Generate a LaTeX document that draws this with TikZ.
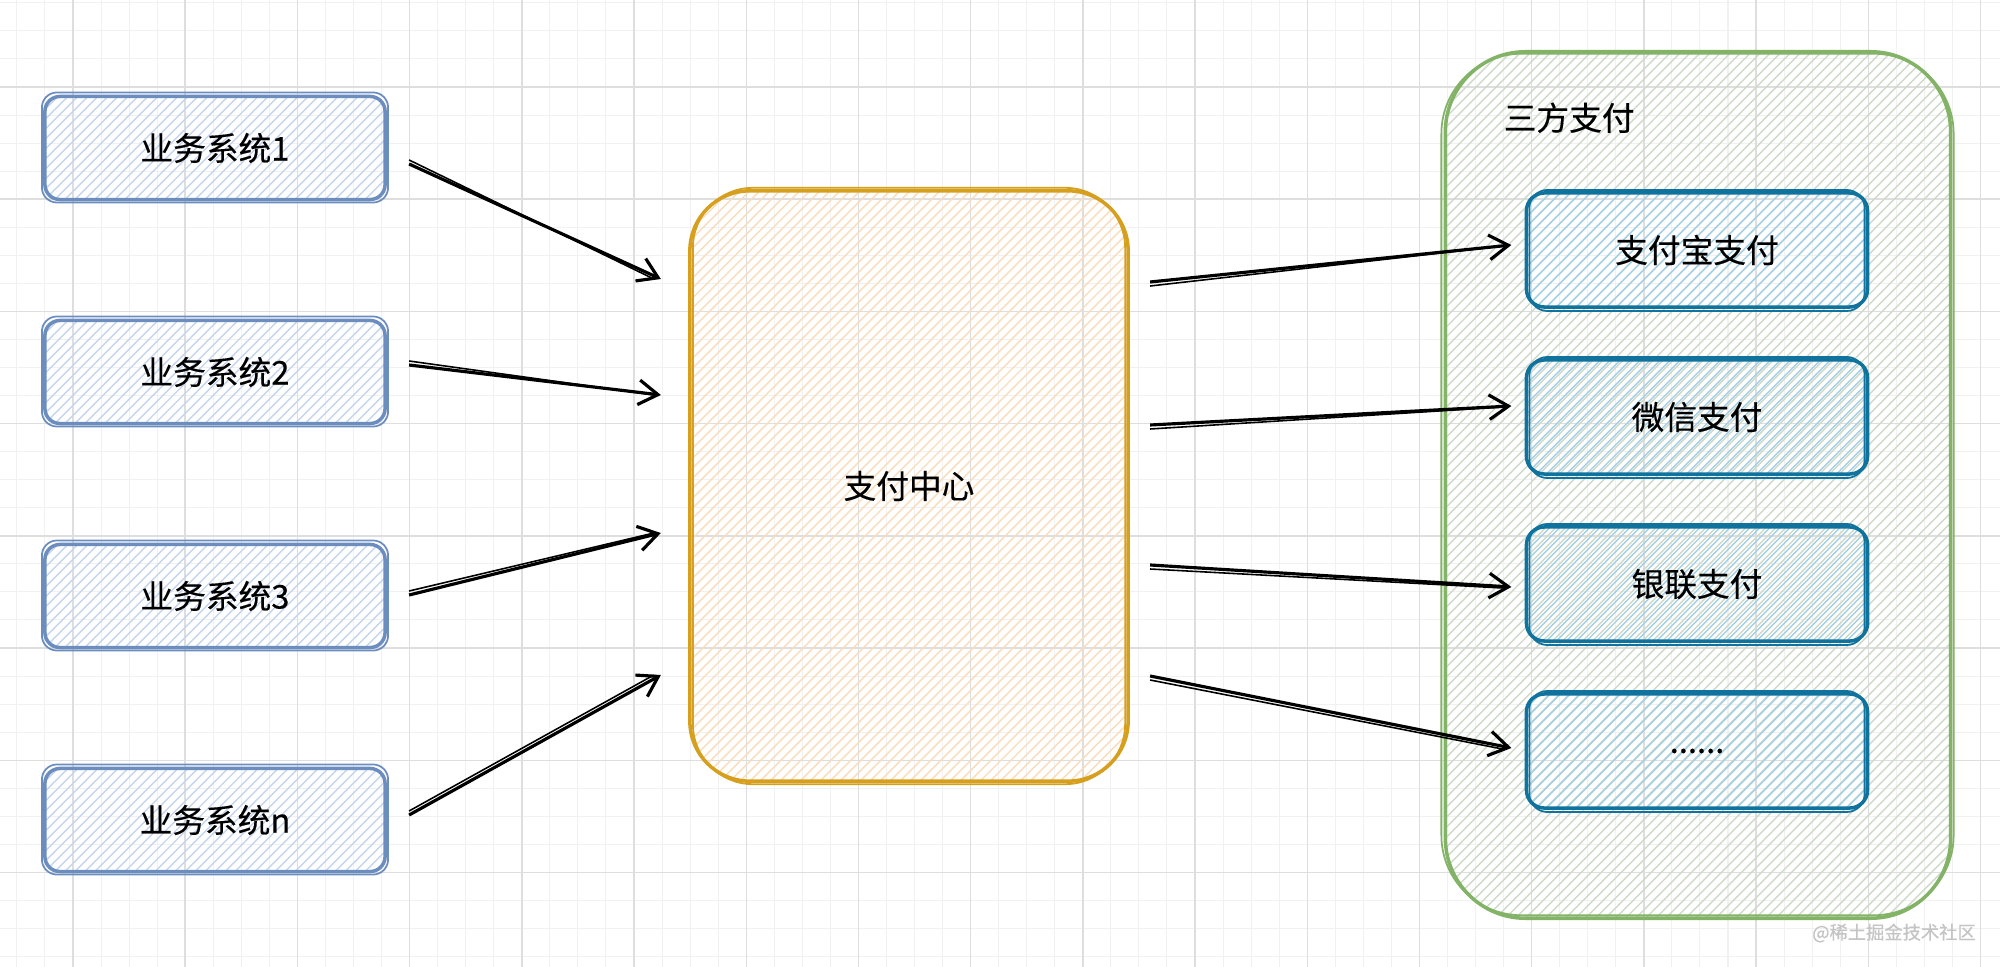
\documentclass[tikz,border=0pt]{standalone}
\usepackage{fontspec}
\setmainfont{Noto Sans CJK SC}[FakeBold=0.35]
\usetikzlibrary{arrows.meta}
\definecolor{sysline}{HTML}{6C8EBF}
\definecolor{sysfill}{HTML}{C6D6EE}
\definecolor{hubline}{HTML}{D6A01E}
\definecolor{hubfill}{HTML}{FADCBC}
\definecolor{thirdline}{HTML}{82B366}
\definecolor{thirdfill}{HTML}{CFD9CA}
\definecolor{payline}{HTML}{10739E}
\definecolor{payfill}{HTML}{A3D0E8}
\definecolor{gridminor}{HTML}{F1F1F1}
\definecolor{gridmajor}{HTML}{DEDEDE}
\definecolor{wmgray}{HTML}{C4C4C4}
\newcommand{\dotsix}{......}

\begin{document}
\begin{tikzpicture}[x=0.01cm,y=-0.01cm,
    font=\fontsize{9.3pt}{11pt}\selectfont,
    hatch/.style={path picture={
        \foreach \k in {-90,...,60}
            \draw[#1,line width=0.4pt] ([xshift=\k*0.1cm]path picture bounding box.south west) -- ++(1000,-1000);
    }},
    sysbox/.style={draw=sysline,line width=1pt,rounded corners=0.15cm,inner sep=0pt,outer sep=0pt,
        minimum width=3.4cm,minimum height=1.03cm,hatch=sysfill},
    paybox/.style={draw=payline,line width=1pt,rounded corners=0.18cm,inner sep=0pt,outer sep=0pt,
        minimum width=3.41cm,minimum height=1.14cm,hatch=payfill},
    hubbox/.style={draw=hubline,line width=1pt,rounded corners=0.6cm,inner sep=0pt,outer sep=0pt,
        minimum width=4.38cm,minimum height=5.9cm,hatch=hubfill},
    thirdbox/.style={draw=thirdline,line width=1pt,rounded corners=0.8cm,inner sep=0pt,outer sep=0pt,
        minimum width=5.05cm,minimum height=8.66cm,hatch=thirdfill},
    link/.style={-{Straight Barb[length=5.5pt,width=7pt]},line width=0.9pt},
    link2/.style={line width=0.45pt}
]
\useasboundingbox (0,0) rectangle (2000,967);
\fill[white] (0,0) rectangle (2000,967);
% grid
\foreach \k in {0,...,70}
    \draw[gridminor,line width=0.3pt] ({16.9+28.05*\k},0) -- ++(0,967);
\foreach \k in {0,...,34}
    \draw[gridminor,line width=0.3pt] (0,{2.85+28.05*\k}) -- ++(2000,0);
\foreach \k in {0,...,17}
    \draw[gridmajor,line width=0.4pt] ({73+112.2*\k},0) -- ++(0,967);
\foreach \k in {0,...,7}
    \draw[gridmajor,line width=0.4pt] (0,{87+112.2*\k}) -- ++(2000,0);

% third party
\node[thirdbox] (third) at (1698,485) {};
\draw[thirdline,line width=0.5pt,rounded corners=0.8cm] ([shift={(-4,2)}]third.north west) rectangle ([shift={(3,-3)}]third.south east);
\node[anchor=west] (thirdlabel) at ([shift={(46,66)}]third.north west) {三方支付};

% center
\node[hubbox] (hub) at (909,486) {支付中心};
\draw[hubline,line width=0.5pt,rounded corners=0.6cm] ([shift={(3,-3)}]hub.north west) rectangle ([shift={(-3,3)}]hub.south east);

% business systems
\foreach \i/\t in {1/1,2/2,3/3,4/n}{
    \node[sysbox] (s\i) at (215,{148+224*(\i-1)}) {业务系统\t};
    \draw[sysline,line width=0.5pt,rounded corners=0.15cm] ([shift={(-3,-4)}]s\i.north west) rectangle ([shift={(3,3)}]s\i.south east);
}

% payment channels
\foreach \i/\t in {1/支付宝支付,2/微信支付,3/银联支付,4/\dotsix}{
    \node[paybox] (p\i) at (1697,{250+167*(\i-1)}) {\t};
    \draw[payline,line width=0.5pt,rounded corners=0.18cm] ([shift={(3,-3)}]p\i.north west) rectangle ([shift={(-3,4)}]p\i.south east);
}

% arrows
\foreach \i/\sy/\ey in {1/16/-207,2/-7/-91,3/-1/47,4/-5/189}{
    \draw[link] ([shift={(24,\sy)}]s\i.east) -- ([shift={(-29,\ey)}]hub.west);
    \draw[link2] ([shift={(24,\sy-4)}]s\i.east) -- ([shift={(-36,\ey)}]hub.west);
}
\foreach \i/\sy/\ey in {1/-204/-5,2/-61/-11,3/79/3,4/190/-3}{
    \draw[link] ([shift={(22,\sy)}]hub.east) -- ([shift={(-15,\ey)}]p\i.west);
    \draw[link2] ([shift={(22,\sy+4)}]hub.east) -- ([shift={(-24,\ey+1)}]p\i.west);
}

\node[text=wmgray,font=\fontsize{5.2pt}{6pt}\selectfont] (wm) at (1894,933) {@稀土掘金技术社区};
\end{tikzpicture}
\end{document}
